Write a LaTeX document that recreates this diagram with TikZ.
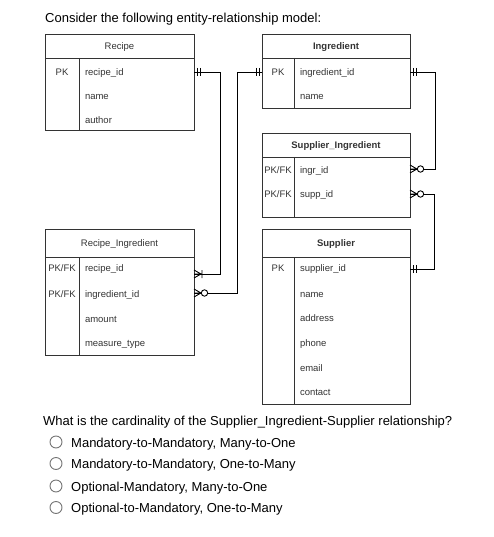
\documentclass[tikz,border=0pt]{standalone}
\usepackage{fontspec}
\setmainfont{Liberation Sans}
\definecolor{bordc}{HTML}{333333}
\definecolor{txtc}{HTML}{333333}
\definecolor{radioc}{HTML}{767676}
\begin{document}
\begin{tikzpicture}[x=1pt,y=-1pt,
  tbl/.style={draw=bordc, line width=0.9pt},
  hdr/.style={tbl, anchor=north west, minimum height=#1, inner sep=0pt, outer sep=0pt,
    text height=8pt, text depth=1.6pt, font=\fontsize{9.5pt}{11pt}\selectfont, text=txtc},
  body/.style={tbl, anchor=north west, minimum height=#1, inner sep=0pt, outer sep=0pt},
  fld/.style={anchor=west, inner xsep=6pt, inner ysep=0pt, outer sep=0pt, text width=#1, align=left,
    text height=8pt, text depth=1.6pt, font=\fontsize{9.5pt}{11pt}\selectfont, text=txtc},
  keyc/.style={inner sep=0pt, text height=8pt, text depth=1.6pt,
    font=\fontsize{9.5pt}{11pt}\selectfont, text=txtc},
  conn/.style={draw=black, line width=0.9pt},
  txt/.style={anchor=base west, inner sep=0pt, font=\fontsize{13pt}{15pt}\selectfont, text=black},
  radio/.style={draw=radioc, line width=0.9pt, fill=white},
  mone/.pic={\draw[conn] (3,-4)--(3,4) (6,-4)--(6,4);},
  zmany/.pic={\draw[conn] (0,-4)--(7,0)--(0,4) (0,0)--(7,0);
    \draw[conn, fill=white] (10.5,0) circle[radius=3.2pt];},
  omany/.pic={\draw[conn] (0,-4)--(7,0)--(0,4) (0,0)--(7,0) (8,-4)--(8,4);}
]
\useasboundingbox (0,0) rectangle (493,537);

% title
\node[txt] (title) at (45,23) {Consider the following entity-relationship model:};

% ---------- Recipe ----------
\node[hdr=24pt, minimum width=149pt] (rec) at (45,34) {Recipe};
\node[body=72pt, minimum width=149pt] (recb) at (rec.south west) {};
\draw[tbl] (79,58) -- (79,130);
\node[keyc] (rec-pk) at (62,72) {PK};
\node[fld=103pt] (rec-id) at (79,72) {recipe\_id};
\node[fld=103pt] (rec-name) at (79,96) {name};
\node[fld=103pt] (rec-auth) at (79,120) {author};

% ---------- Ingredient ----------
\node[hdr=24pt, minimum width=148pt] (ing) at (262,34) {\bfseries Ingredient};
\node[body=50pt, minimum width=148pt] (ingb) at (ing.south west) {};
\draw[tbl] (294,58) -- (294,108);
\node[keyc] (ing-pk) at (278,72) {PK};
\node[fld=104pt] (ing-id) at (294,72) {ingredient\_id};
\node[fld=104pt] (ing-name) at (294,96) {name};

% ---------- Supplier_Ingredient ----------
\node[hdr=24pt, minimum width=148pt] (si) at (262,133) {\bfseries Supplier\_Ingredient};
\node[body=60pt, minimum width=148pt] (sib) at (si.south west) {};
\draw[tbl] (294,157) -- (294,217);
\node[keyc] (si-pk1) at (278,170) {PK/FK};
\node[keyc] (si-pk2) at (278,194) {PK/FK};
\node[fld=104pt] (si-ingr) at (294,170) {ingr\_id};
\node[fld=104pt] (si-supp) at (294,194) {supp\_id};

% ---------- Recipe_Ingredient ----------
\node[hdr=28pt, minimum width=149pt] (ri) at (45,229) {Recipe\_Ingredient};
\node[body=98pt, minimum width=149pt] (rib) at (ri.south west) {};
\draw[tbl] (79,257) -- (79,355);
\node[keyc] (ri-pk1) at (62,268) {PK/FK};
\node[keyc] (ri-pk2) at (62,294) {PK/FK};
\node[fld=103pt] (ri-rid) at (79,268) {recipe\_id};
\node[fld=103pt] (ri-iid) at (79,294) {ingredient\_id};
\node[fld=103pt] (ri-amt) at (79,319) {amount};
\node[fld=103pt] (ri-mt) at (79,343) {measure\_type};

% ---------- Supplier ----------
\node[hdr=28pt, minimum width=148pt] (sup) at (262,229) {\bfseries Supplier};
\node[body=147pt, minimum width=148pt] (supb) at (sup.south west) {};
\draw[tbl] (294,257) -- (294,404);
\node[keyc] (sup-pk) at (278,268) {PK};
\node[fld=104pt] (sup-id) at (294,268) {supplier\_id};
\node[fld=104pt] (sup-name) at (294,294) {name};
\node[fld=104pt] (sup-addr) at (294,318) {address};
\node[fld=104pt] (sup-ph) at (294,343) {phone};
\node[fld=104pt] (sup-em) at (294,368) {email};
\node[fld=104pt] (sup-ct) at (294,392) {contact};

% ---------- connectors ----------
\coordinate (ri-rid-e) at ([yshift=-6pt]ri-rid.east);
\draw[conn] (rec-id.east) -- ++(26,0) |- (ri-rid-e);
\pic at (rec-id.east) {mone};
\pic at (ri-rid-e) {omany};

\coordinate (ing-w) at (ing.west |- ing-id);
\coordinate (ri-iid-e) at ([yshift=1pt]ri-iid.east);
\draw[conn] (ing-w) -- ++(-25,0) |- (ri-iid-e);
\pic[xscale=-1] at (ing-w) {mone};
\pic at (ri-iid-e) {zmany};

\coordinate (si-ingr-e) at ([yshift=1pt]si-ingr.east);
\draw[conn] (ing-id.east) -- ++(25,0) |- (si-ingr-e);
\pic at (ing-id.east) {mone};
\pic at (si-ingr-e) {zmany};

\coordinate (sup-id-e) at ([yshift=-1pt]sup-id.east);
\draw[conn] (si-supp.east) -- ++(24,0) |- (sup-id-e);
\pic at (si-supp.east) {zmany};
\pic at (sup-id-e) {mone};

% ---------- question ----------
\node[txt] (q) at (43,425) {What is the cardinality of the Supplier\_Ingredient-Supplier relationship?};
\node[radio, circle, minimum size=12pt, inner sep=0pt] (r1) at (56,442) {};
\node[radio, circle, minimum size=12pt, inner sep=0pt] (r2) at (56,463.5) {};
\node[radio, circle, minimum size=12pt, inner sep=0pt] (r3) at (56,486) {};
\node[radio, circle, minimum size=12pt, inner sep=0pt] (r4) at (56,507.5) {};
\node[txt] (o1) at (71,447) {Mandatory-to-Mandatory, Many-to-One};
\node[txt] (o2) at (71,468.5) {Mandatory-to-Mandatory, One-to-Many};
\node[txt] (o3) at (71,491) {Optional-Mandatory, Many-to-One};
\node[txt] (o4) at (71,512.5) {Optional-to-Mandatory, One-to-Many};
\end{tikzpicture}
\end{document}
